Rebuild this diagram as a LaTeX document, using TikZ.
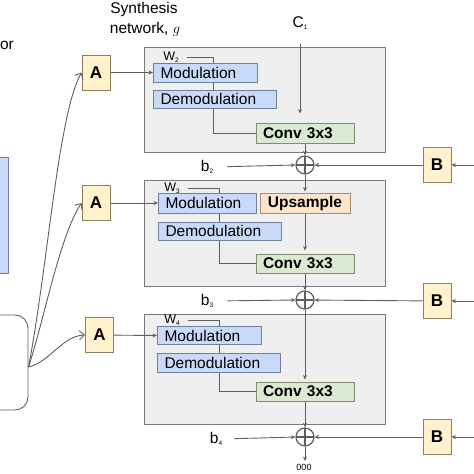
\documentclass[tikz,border=0pt]{standalone}
\usepackage{fontspec}
\setmainfont{Liberation Sans}
\usetikzlibrary{arrows.meta,calc}
\definecolor{grayfill}{HTML}{EFEFEF}
\definecolor{graydraw}{HTML}{7A7A7A}
\definecolor{bluefill}{HTML}{C9DAF8}
\definecolor{bluedraw}{HTML}{6F7F9C}
\definecolor{greenfill}{HTML}{D9EAD3}
\definecolor{greendraw}{HTML}{7C8F74}
\definecolor{orangefill}{HTML}{FCE5CD}
\definecolor{orangedraw}{HTML}{A88B70}
\definecolor{yellowfill}{HTML}{FFF2CC}
\definecolor{yellowdraw}{HTML}{8C7F5C}
\definecolor{linecol}{HTML}{5F5F5F}
\newcommand\mf{\fontsize{15.5}{17}\selectfont}
\newcommand\bigf{\fontsize{17}{19}\selectfont}
\newcommand\sml{\fontsize{12.5}{14}\selectfont}
\newcommand\subs[1]{\raisebox{-0.25ex}{\fontsize{6.5}{7}\selectfont #1}}
\pgfdeclarelayer{back}
\pgfdeclarelayer{mid}
\pgfsetlayers{back,mid,main}
\begin{document}
\begin{tikzpicture}[x=1pt,y=-1pt,
  every node/.style={inner sep=0pt, text=black},
  blockbg/.style={draw=graydraw, fill=grayfill, line width=1pt},
  bluebox/.style={draw=bluedraw, fill=bluefill, line width=1pt, anchor=west, inner xsep=7pt, align=left, font=\mf, minimum height=19pt},
  convbox/.style={draw=greendraw, fill=greenfill, line width=1pt, inner xsep=7pt, text width=84pt, align=left, font=\mf\bfseries, minimum height=20pt},
  upbox/.style={draw=orangedraw, fill=orangefill, line width=1pt, minimum width=90pt, minimum height=20pt, font=\mf\bfseries},
  abox/.style={draw=yellowdraw, fill=yellowfill, line width=1pt, minimum width=28pt, minimum height=35pt, font=\bigf\bfseries},
  plusnode/.style={circle, draw=linecol, line width=1.2pt, minimum size=18pt, path picture={\draw[linecol, line width=1.2pt] (path picture bounding box.north) -- (path picture bounding box.south) (path picture bounding box.west) -- (path picture bounding box.east);}},
  conn/.style={draw=linecol, line width=0.9pt},
  arr/.style={conn, -{Stealth[length=4.5pt,width=4pt]}},
  barb/.style={conn, -{Straight Barb[length=5pt,width=9pt]}},
  lbl/.style={font=\mf},
  wlbl/.style={font=\sml},
]
\useasboundingbox (0,0) rectangle (474,474);

% titles
\node[lbl] (t1) at (144,9) {Synthesis};
\node[lbl] (t2) at (145,29) {network, $g$};
\node[lbl] (orl) at (7,45) {or};

% left shapes
\draw[draw=bluedraw, fill=bluefill, line width=1pt] (-10,157) rectangle (8,273);
\draw[conn, rounded corners=13pt] (-20,315) rectangle (28,410);
\coordinate (src) at (28.5,367);

% blocks background
\begin{pgfonlayer}{back}
\draw[blockbg] (144,47) rectangle (385,152);
\draw[blockbg] (144,180) rectangle (385,286);
\draw[blockbg] (144,314) rectangle (385,424);
\end{pgfonlayer}

% A boxes
\node[abox] (A1) at (96,72.5) {A};
\node[abox] (A2) at (96,203) {A};
\node[abox] (A3) at (99.5,335) {A};

% block 1
\node[wlbl] (w2) at (171,57) {W\subs{2}};
\node[bluebox, text width=90pt] (mod1) at (153,72.5) {Modulation};
\node[bluebox, text width=109pt, minimum height=18pt] (demod1) at (153,99) {Demodulation};
\node[convbox] (conv1) at (305,133) {Conv 3x3};
\node[lbl] (c1) at (300,23) {C\subs{1}};
\node[plusnode] (plus1) at (305,165) {};
\node[lbl] (b2) at (207,167) {b\subs{2}};
\node[abox] (B1) at (437,165) {B};
\coordinate (in1) at (474,165);
\coordinate (w2c) at (213,57);

% block 2
\node[wlbl] (w3) at (172,188) {W\subs{3}};
\node[bluebox, text width=84pt, minimum height=20pt] (mod2) at (158,203) {Modulation};
\node[upbox] (up2) at (305,203) {Upsample};
\node[bluebox, text width=109pt, minimum height=18pt] (demod2) at (158,231) {Demodulation};
\node[convbox, minimum height=19pt] (conv2) at (305,263.5) {Conv 3x3};
\node[plusnode] (plus2) at (305,300) {};
\node[lbl] (b3) at (207,301) {b\subs{3}};
\node[abox] (B2) at (437,301) {B};
\coordinate (in2) at (474,301);
\coordinate (w3c) at (219,188);

% block 3
\node[wlbl] (w4) at (172,320) {W\subs{4}};
\node[bluebox, text width=90pt, minimum height=18pt] (mod3) at (157,335.5) {Modulation};
\node[bluebox, text width=109pt] (demod3) at (157,362.5) {Demodulation};
\node[convbox, minimum height=19pt] (conv3) at (305,391.5) {Conv 3x3};
\node[plusnode] (plus3) at (305,437) {};
\node[lbl] (b4) at (216,439) {b\subs{4}};
\node[abox] (B3) at (437,437) {B};
\coordinate (in3) at (474,437);
\coordinate (w4c) at (219,320);
\coordinate (outp) at (305,461);
\node[font=\fontsize{9}{10}\selectfont, anchor=north] (dots) at (304,464.5) {000};

\begin{pgfonlayer}{mid}
\draw[conn] (w2.east) ++(8,0) -- (w2c) |- (conv1.west);
\draw[conn] (w3.east) ++(8,0) -- (w3c) |- (conv2.west);
\draw[conn] (w4.east) ++(8,0) -- (w4c) |- (conv3.west);
\end{pgfonlayer}

% connectors
\draw[arr] (A1) -- (mod1.west);
\draw[arr] (A2) -- (mod2.west);
\draw[arr] (A3) -- (mod3.west);

\draw[arr, shorten <=14pt, shorten >=9pt] (c1) -- (c1 |- conv1.north);
\draw[arr] (conv1) -- (plus1);
\draw[arr, shorten >=1pt] (plus1) -- (up2);
\draw[arr, shorten >=3pt] (up2) -- (conv2);
\draw[arr] (conv2) -- (plus2);
\draw[arr, shorten >=2pt] (plus2) -- (conv3);
\draw[arr] (conv3) -- (plus3);
\draw[arr] (plus3) -- (outp);

\draw[arr, shorten <=14pt] (b2.east) -- (plus1.west);
\draw[arr, shorten <=14pt] (b3.east) -- (plus2.west);
\draw[arr, shorten <=12pt] (b4.east) -- (plus3.west);

\draw[arr] (in1) -- (B1);
\draw[arr] (B1) -- (plus1);
\draw[arr] (in2) -- (B2);
\draw[arr] (B2) -- (plus2);
\draw[arr] (in3) -- (B3);
\draw[arr] (B3) -- (plus3);

% curves from mapping output
\draw[barb] (src) .. controls (48,265) and (58,115) .. (A1.west);
\draw[barb] (src) .. controls (44,320) and (60,235) .. (A2.west);
\draw[barb] (src) .. controls (50,362) and (62,336) .. (A3.west);
\end{tikzpicture}
\end{document}
